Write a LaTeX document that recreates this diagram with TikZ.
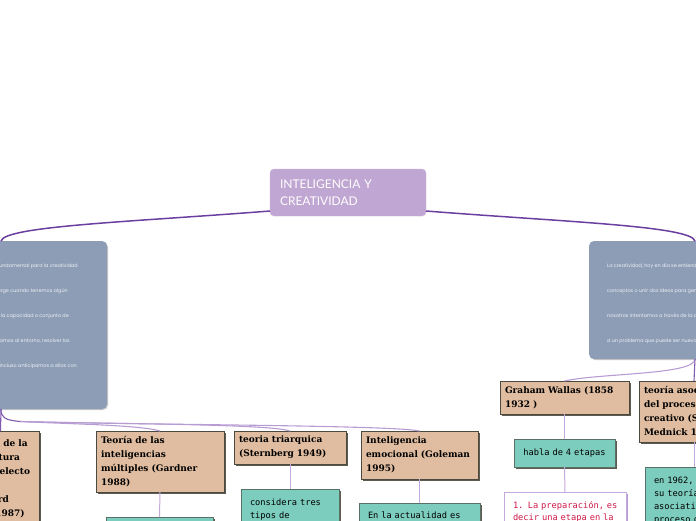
\documentclass[tikz,border=0pt]{standalone}
\usepackage{fontspec}
\usetikzlibrary{shadows}
\newfontfamily\titlefont{Lato}
\newfontfamily\smallfont{Poppins}
\newfontfamily\slabfont{DejaVu Serif}
\newfontfamily\monofont{DejaVu Sans Mono}
\definecolor{rootc}{HTML}{C0A6D2}
\definecolor{greyblue}{HTML}{8C9DB5}
\definecolor{tanc}{HTML}{E0BDA0}
\definecolor{tealc}{HTML}{7DCDBE}
\definecolor{darkline}{HTML}{6B3FA0}
\definecolor{lightline}{HTML}{C5A8DC}
\definecolor{midline}{HTML}{B79CD4}
\definecolor{edgec}{HTML}{4A4A40}
\definecolor{shadowc}{HTML}{5E5A4E}
\definecolor{redtext}{HTML}{D01848}
\definecolor{smalltext}{HTML}{EEF1F6}
\tikzset{
  x=1pt,y=-1pt,
  boxed/.style 2 args={anchor=north west,inner xsep=5pt,inner ysep=0pt,outer sep=0pt,
    text width=#1-10pt,minimum height=#2,align=left},
  rootbox/.style={boxed={156pt}{47pt},inner xsep=10pt,text width=136pt,fill=rootc,draw=rootc!80!white,
    rounded corners=4pt,text=white,font=\titlefont\fontsize{12}{16.5}\selectfont},
  bluebox/.style 2 args={boxed={#1}{#2},fill=greyblue,rounded corners=5pt,
    drop shadow={shadow xshift=1pt,shadow yshift=-1pt,fill=black!22,opacity=1}},
  tanbox/.style 2 args={boxed={#1}{#2},fill=tanc,draw=edgec,line width=.7pt,
    font=\slabfont\bfseries\fontsize{9}{14}\selectfont,
    drop shadow={shadow xshift=2pt,shadow yshift=-2pt,fill=shadowc,opacity=1}},
  tealbox/.style 2 args={boxed={#1}{#2},fill=tealc,draw=edgec!70!tealc,line width=.7pt,
    inner xsep=9pt,text width=#1-18pt,
    font=\monofont\fontsize{8.7}{13}\selectfont,
    drop shadow={shadow xshift=2pt,shadow yshift=-2pt,fill=shadowc,opacity=1}},
  redbox/.style 2 args={boxed={#1}{#2},fill=white,draw=lightline,line width=.8pt,
    inner xsep=9pt,text width=#1-18pt,text=redtext,
    font=\monofont\fontsize{8.7}{12}\selectfont,
    drop shadow={shadow xshift=1.5pt,shadow yshift=-1.5pt,fill=midline,opacity=1}},
  smallline/.style={text=smalltext,inner sep=0pt,font=\smallfont\fontsize{4.9}{6}\selectfont},
  mainlink/.style={draw=darkline,line width=1.5pt},
  sublink/.style={draw=midline,line width=1.1pt},
  rootlink/.style={draw=darkline!85!white,line width=1.1pt},
  stemlink/.style={draw=lightline,line width=1pt},
}
\begin{document}
\begin{tikzpicture}
\useasboundingbox (0,0) rectangle (696,520);
\clip (0,0) rectangle (696,520);

% nodes
\node[rootbox] (root) at (270,169) {INTELIGENCIA Y\\CREATIVIDAD};
\node[bluebox={212pt}{168pt}] (lblue) at (-105,241) {};
\node[bluebox={212pt}{118pt}] (rblue) at (589,241) {};

\node[smallline,anchor=east] (l1) at (78,266) {fundamental para la creatividad};
\node[smallline,anchor=east] (l2) at (68,291) {surge cuando tenemos algún};
\node[smallline,anchor=east] (l3) at (69,316) {o la capacidad o conjunto de};
\node[smallline,anchor=east] (l4) at (70,341) {amos al entorno, resolver los};
\node[smallline,anchor=east] (l5) at (77,366) {incluso anticipamos a ellos con};

\node[smallline,anchor=west] (r1) at (607,266) {La creatividad, hoy en día se entiende};
\node[smallline,anchor=west] (r2) at (607,291) {conceptos o unir dos ideas para generar};
\node[smallline,anchor=west] (r3) at (607,316) {nosotros intentamos a través de la creatividad};
\node[smallline,anchor=west] (r4) at (607,341) {a un problema que puede ser nuevo};

\node[tanbox={77pt}{96pt}] (est) at (-38,431)
  {\hspace*{2pt}Teoría de la\\estructura\\del intelecto\\\mbox{}\\Guilford\\\hspace*{24pt}(1987)};
\node[tanbox={128pt}{61pt}] (mult) at (96,431)
  {Teoría de las\\inteligencias\\múltiples (Gardner\\1988)};
\node[tanbox={112pt}{33pt}] (tri) at (234,431) {teoria triarquica\\(Sternberg 1949)};
\node[tanbox={117pt}{48pt}] (emo) at (361,431) {Inteligencia\\emocional (Goleman\\1995)};
\node[tanbox={129pt}{33pt}] (wallas) at (500,381) {Graham Wallas (1858\\1932 )};
\node[tanbox={110pt}{61pt}] (asoc) at (639,381)
  {teoría asociativa\\del proceso\\creativo (Sarnoff\\Mednick  1962)};

\node[tealbox={107pt}{40pt}] (multt) at (106,517) {};
\node[tealbox={98pt}{0pt},text depth=60pt] (trit) at (241,489) {\rule{0pt}{16pt}considera tres\\tipos de};
\node[tealbox={121pt}{0pt},text depth=60pt] (emot) at (359,503) {\rule{0pt}{15.5pt}\mbox{En la actualidad es}};
\node[tealbox={101pt}{28pt},align=center] (etapas) at (514,439) {\mbox{habla de 4 etapas}};
\node[redbox={122pt}{0pt},text depth=60pt] (prep) at (504,492) {\rule{0pt}{16pt}\mbox{1. La preparación, es}\\\mbox{decir una etapa en la}};
\node[tealbox={98pt}{0pt},text depth=60pt] (asoct) at (645,467) {\rule{0pt}{16pt}en 1962, \\su teoría\\asociativa\\proceso c};

\coordinate (hub) at (20,421.5);

% connectors
\draw[mainlink] ([yshift=5pt]root.south west) .. controls (130,222) and (5,226) .. (lblue.north);
\draw[mainlink] ([yshift=5pt]root.south east) .. controls (566,222) and (691,226) .. (rblue.north);

\draw[rootlink] (lblue.south) -- (est.north);
\draw[rootlink] (lblue.south) .. controls (1,418) and (5,420) .. (hub);
\draw[sublink] (hub) .. controls (70,424) and (140,425) .. (mult.north);
\draw[sublink] (hub) .. controls (120,424) and (270,424) .. (tri.north);
\draw[sublink] (hub) .. controls (150,425) and (390,425) .. (emo.north);

\draw[sublink] (rblue.south) .. controls (695,375) and (600,373) .. (wallas.north);
\draw[rootlink] (rblue.south) -- (asoc.north);

\draw[stemlink] (mult.south) -- (multt.north);
\draw[stemlink] (tri.south) -- (trit.north);
\draw[stemlink] (emo.south) -- (emot.north);
\draw[stemlink] (wallas.south) -- (etapas.north);
\draw[stemlink] (etapas.south) -- (prep.north);
\draw[stemlink] (asoc.south) -- (asoct.north);
\end{tikzpicture}
\end{document}
